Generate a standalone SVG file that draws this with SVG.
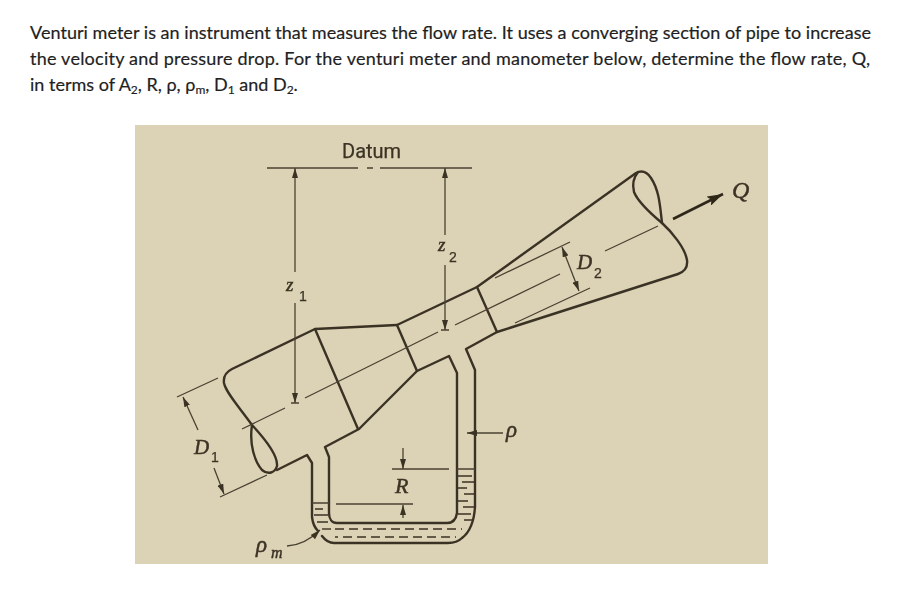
<svg xmlns="http://www.w3.org/2000/svg" width="903" height="603" viewBox="0 0 903 603">
<defs>
<filter id="soft" x="-2%" y="-2%" width="104%" height="104%"><feGaussianBlur stdDeviation="0.5"/></filter>
<marker id="ah" viewBox="0 0 10 6" refX="10" refY="3" markerWidth="10" markerHeight="6" markerUnits="userSpaceOnUse" orient="auto-start-reverse"><path d="M0 0L10 3L0 6Z" fill="#3b3325"/></marker>
<marker id="ahq" viewBox="0 0 16 10" refX="16" refY="5" markerWidth="16" markerHeight="10" markerUnits="userSpaceOnUse" orient="auto"><path d="M0 0L16 5L0 10L3 5Z" fill="#2e2719"/></marker>
</defs>
<style>
.q{font:18px Lato,"Liberation Sans",sans-serif;fill:#1f1f1f;stroke:#1f1f1f;stroke-width:.2}
.sub{font-size:12px}
.pipe{fill:none;stroke:#3b3325;stroke-width:2.4;stroke-linejoin:round;stroke-linecap:round}
.thin{fill:none;stroke:#4a4233;stroke-width:1.3}
.dim{fill:none;stroke:#4a4233;stroke-width:1.3;marker-end:url(#ah)}
.dash{fill:none;stroke:#3b3325;stroke-width:1.4}
.bd{fill:none;stroke:#3b3325;stroke-width:1.4;stroke-dasharray:9 5}
.lab{font-family:"Liberation Serif",serif;font-style:italic;fill:#3b3325;stroke:#3b3325;stroke-width:.45}
.num{font-family:"Liberation Sans",sans-serif;fill:#3b3325;stroke:#3b3325;stroke-width:.25}
.dat{font:20px Roboto,"Liberation Sans",sans-serif;fill:#3b3325;stroke:#3b3325;stroke-width:.25}
</style>
<rect width="903" height="603" fill="#fff"/>
<g id="question">
<text class="q" x="30" y="39" textLength="841" lengthAdjust="spacing">Venturi meter is an instrument that measures the flow rate. It uses a converging section of pipe to increase</text>
<text class="q" x="30" y="65" textLength="840" lengthAdjust="spacing">the velocity and pressure drop. For the venturi meter and manometer below, determine the flow rate, Q,</text>
<text class="q" x="30" y="91">in terms of A<tspan class="sub" dy="3">2</tspan><tspan dy="-3">, R, ρ, ρ</tspan><tspan class="sub" dy="3">m</tspan><tspan dy="-3">, D</tspan><tspan class="sub" dy="3">1</tspan><tspan dy="-3"> and D</tspan><tspan class="sub" dy="3">2</tspan><tspan dy="-3">.</tspan></text>
</g>
<rect id="photo" x="135" y="125" width="633" height="439" fill="#dcd2b5"/>
<g id="drawing" filter="url(#soft)">
<g id="venturi">
<path class="pipe" d="M277 470L307 455L312 463V517Q313 526 318 531"/>
<path class="pipe" d="M252 425C240 408 226 393 224 383C223 376 226 372 232 369L315 329L397 325L477 287L636 173C642 170 647 172 651 178C659 190 660 205 662 223C672 232 685 248 687 260C688 268 684 272 678 274L497 332L466 349L475 370V507C474 522 470 532 462 538C458 542 454 543 448 543H334C329 543 325 540 322 536"/>
<path class="pipe" d="M252 425C249 445 255 462 262 470C268 475 275 473 277 466C278 456 266 440 252 425Z"/>
<path class="pipe" d="M662 223C650 213 638 202 634 192C632 184 634 177 638 172"/>
<path class="pipe" d="M315 329L358 429M397 325L417 371M477 287L497 332"/>
<path class="pipe" d="M325 447L359 429L381 407L417 371L449 356L457 373V513C456 520 453 523 447 523H337C332 523 329 519 329 513V457Z"/>
</g>
<g id="centerline">
<path class="thin" d="M242 429L285 408M305 398L438 332M455 325L560 274M605 251L658 226"/>
</g>
<g id="fluid">
<path class="thin" style="stroke-width:1.6" d="M312 503H329M457 469H475"/>
<path class="dash" d="M315 509h8M314 515h14M317 522h11"/>
<path class="dash" d="M458 476h14M462 482h12M458 488h9M464 494h10M458 501h10M463 507h11M458 514h13M464 520h8"/>
<path class="bd" d="M335 529H462"/>
<path class="bd" stroke-dashoffset="6" d="M335 537H456"/>
<path class="dash" d="M322 529h9"/>
</g>
<g id="connectors">
<path class="thin" d="M267 168H358M367 168H373M380 168H472"/>
<path class="dim" d="M295 272V168"/><path class="dim" d="M295 303V403"/>
<path class="thin" d="M291 403H299M441 330H449"/>
<path class="dim" d="M445 235V168"/><path class="dim" d="M445 265V330"/>
<path class="thin" d="M177 397L218 378M220 497L267 475"/>
<path class="dim" d="M198 430L183 397"/><path class="dim" d="M214 468L224 494"/>
<path class="thin" d="M495 278L570 242M515 323L590 288"/>
<path class="dim" d="M562 247L579 291" marker-start="url(#ah)"/>
<path class="thin" style="stroke-width:1.5" d="M392 469H449M336 504H413"/>
<path class="dim" d="M403 448V469"/><path class="dim" d="M403 518V505"/>
<path class="dim" d="M503 433H467"/>
<path class="dim" d="M287 546Q305 545 320 530"/>
<path fill="none" stroke="#2e2719" stroke-width="2.6" d="M673 219L723 194" marker-end="url(#ahq)"/>
</g>
<g id="labels">
<text class="dat" x="342" y="158">Datum</text>
<text class="lab" x="286" y="291" font-size="19">z</text><text class="num" x="299" y="301" font-size="14">1</text>
<text class="lab" x="438" y="251" font-size="19">z</text><text class="num" x="449" y="262" font-size="14">2</text>
<text class="lab" x="577" y="269" font-size="21">D</text><text class="num" x="594" y="278" font-size="14">2</text>
<text class="lab" x="194" y="454" font-size="21">D</text><text class="num" x="211" y="462" font-size="14">1</text>
<text class="lab" x="732" y="198" font-size="24">Q</text>
<text class="lab" x="395" y="493" font-size="22">R</text>
<text class="lab" x="506" y="437" font-size="23">ρ</text>
<text class="lab" x="256" y="552" font-size="23">ρ</text><text class="lab" x="271" y="558" font-size="16">m</text>
</g>
</g>
</svg>
